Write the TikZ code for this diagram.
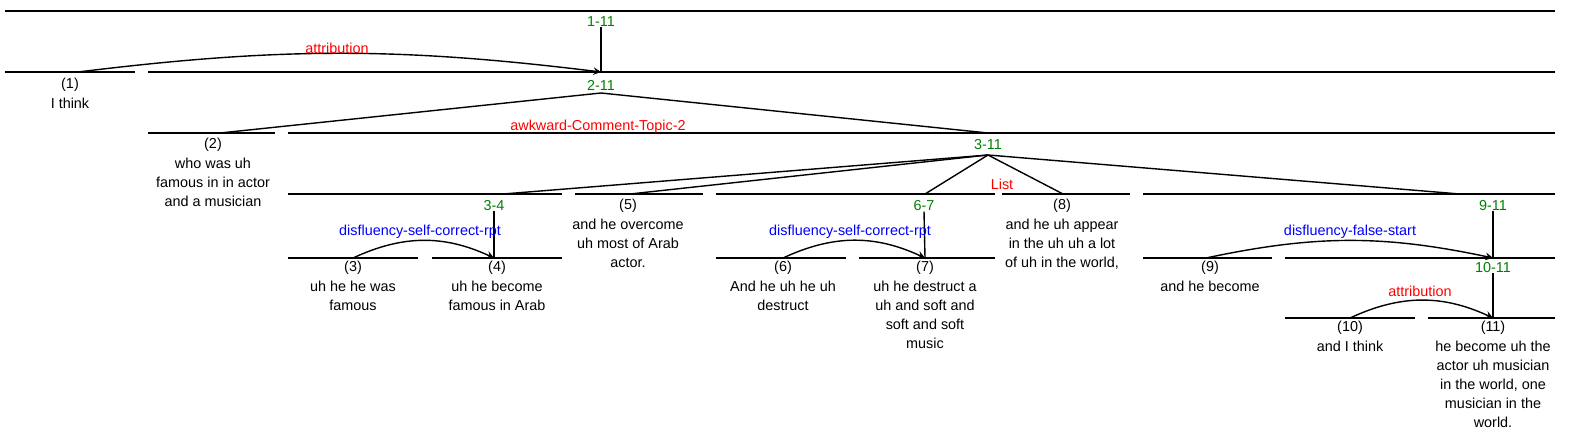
\documentclass[tikz,border=0pt]{standalone}
\usepackage{fontspec}
\setmainfont{Liberation Sans}
\definecolor{spangreen}{RGB}{0,128,0}
\begin{document}
\begin{tikzpicture}[x=0.5pt,y=-0.5pt,
  seg/.style={line width=0.7pt},
  txt/.style={font=\fontsize{7.2}{9.6}\selectfont,align=center,anchor=north,inner sep=0pt},
  span/.style={font=\fontsize{7.2}{9.6}\selectfont,text=spangreen,inner sep=0pt},
  relr/.style={font=\fontsize{7.2}{9.6}\selectfont,text=red,inner sep=0pt},
  relb/.style={font=\fontsize{7.2}{9.6}\selectfont,text=blue,inner sep=0pt},
  arc/.style={->,>=stealth,line width=0.7pt},
  tie/.style={line width=0.7pt}]
\useasboundingbox (0,0) rectangle (1578,443);
% top rule
\draw[seg] (5,11) -- (1555,11);
% level 1
\draw[seg] (5,72) -- (135,72);
\draw[seg] (148,72) -- (1555,72);
\node[span] (s111) at (601,22) {1-11};
\coordinate (r111) at (601,72);
\draw[tie] (s111.south) -- (r111);
\coordinate (a1) at (78,72);
\draw[arc] (a1) to[bend left=7] (r111);
\node[relr] (l1) at (337,48) {attribution};
\node[txt] (e1) at (70,78) {(1)\\I think};
% level 2
\draw[seg] (148,133) -- (275,133);
\draw[seg] (288,133) -- (1555,133);
\node[span] (s211) at (601,85) {2-11};
\coordinate (t2) at (601,93);
\coordinate (c2) at (220,133);
\coordinate (c311) at (988,133);
\draw[tie] (c2) -- (t2) -- (c311);
\node[relr] (l2) at (598,127) {awkward-Comment-Topic-2};
\node[txt] (e2) at (213,138) {(2)\\who was uh\\famous in in actor\\and a musician};
% level 3
\foreach \a/\b in {288/562,575/703,716/995,1002/1130,1143/1555}
  \draw[seg] (\a,194) -- (\b,194);
\node[span] (s311) at (988,145) {3-11};
\coordinate (t3) at (988,155);
\coordinate (c34) at (503,194);
\coordinate (c5) at (630,194);
\coordinate (c67) at (925,194);
\coordinate (c8) at (1063,194);
\coordinate (c911) at (1460,194);
\foreach \c in {c34,c5,c67,c8,c911} \draw[tie] (t3) -- (\c);
\node[relr] (l3) at (1002,184) {List};
\node[txt] (e5) at (628,199) {(5)\\and he overcome\\uh most of Arab\\actor.};
\node[txt] (e8) at (1062,199) {(8)\\and he uh appear\\in the uh uh a lot\\of uh in the world,};
\node[span] (s34) at (494,206) {3-4};
\node[span] (s67) at (924,206) {6-7};
\node[span] (s911) at (1493,206) {9-11};
\coordinate (r34) at (494,258);
\coordinate (r67) at (925,258);
\coordinate (r911) at (1493,258);
\draw[tie] (s34.south) -- (r34);
\draw[tie] (s67.south) -- (r67);
\draw[tie] (s911.south) -- (r911);
% level 4
\foreach \a/\b in {288/418,432/562,716/846,859/995,1143/1272,1285/1555}
  \draw[seg] (\a,258) -- (\b,258);
\node[relb] (l4) at (420,232) {disfluency-self-correct-rpt};
\node[relb] (l5) at (850,232) {disfluency-self-correct-rpt};
\node[relb] (l6) at (1350,232) {disfluency-false-start};
\coordinate (a3) at (353,258);
\coordinate (a6) at (783,258);
\coordinate (a9) at (1206,258);
\draw[arc] (a3) to[bend left=25] (r34);
\draw[arc] (a6) to[bend left=25] (r67);
\draw[arc] (a9) to[bend left=12] (r911);
\node[txt] (e3) at (353,261) {(3)\\uh he he was\\famous};
\node[txt] (e4) at (497,261) {(4)\\uh he become\\famous in Arab};
\node[txt] (e6) at (783,261) {(6)\\And he uh he uh\\destruct};
\node[txt] (e7) at (925,261) {(7)\\uh he destruct a\\uh and soft and\\soft and soft\\music};
\node[txt] (e9) at (1210,261) {(9)\\and he become};
\node[span] (s1011) at (1493,268) {10-11};
\coordinate (r1011) at (1493,318);
\draw[tie] (s1011.south) -- (r1011);
\node[relr] (l7) at (1420,291) {attribution};
\coordinate (a10) at (1350,318);
\draw[arc] (a10) to[bend left=25] (r1011);
% level 5
\draw[seg] (1285,318) -- (1415,318);
\draw[seg] (1428,318) -- (1555,318);
\node[txt] (e10) at (1350,321) {(10)\\and I think};
\node[txt] (e11) at (1493,321) {(11)\\he become uh the\\actor uh musician\\in the world, one\\musician in the\\world.};
\end{tikzpicture}
\end{document}
